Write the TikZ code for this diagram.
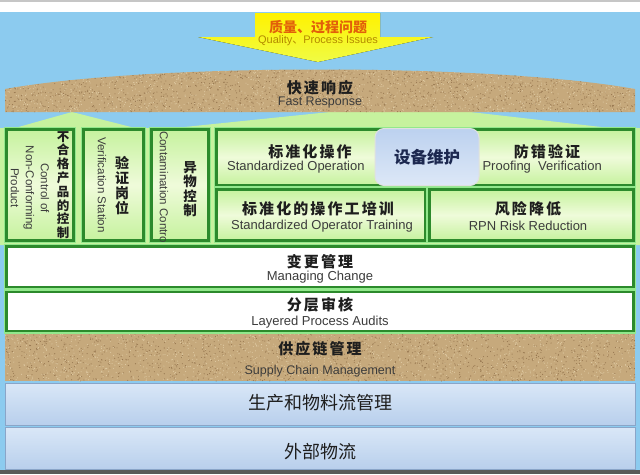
\documentclass[tikz,border=0pt]{standalone}
\usepackage{fontspec}
\setmainfont{Liberation Sans}
\newfontfamily\cjk{Noto Sans CJK SC}
\newfontfamily\cjkw{Noto Sans CJK SC}[LetterSpace=14]
\definecolor{sky}{HTML}{8CCBEF}
\definecolor{leaf}{HTML}{2C8A2C}
\definecolor{glow}{HTML}{92E88C}
\definecolor{lime}{HTML}{C6F29E}
\definecolor{paleleaf}{HTML}{EFFBDA}
\definecolor{sand}{HTML}{C6A97C}
\definecolor{sanddark}{HTML}{977750}
\definecolor{sandlight}{HTML}{DFCBA4}
\definecolor{bandtop}{HTML}{D9E7F7}
\definecolor{bandbot}{HTML}{B8CFEC}
\definecolor{bandline}{HTML}{8AA5C8}
\definecolor{ink}{HTML}{1E1E1E}
\definecolor{grayink}{HTML}{3C3C3C}
\definecolor{flame}{HTML}{E2600A}
\definecolor{olive}{HTML}{B38A00}
\definecolor{navy}{HTML}{1C2850}
\definecolor{eqtop}{HTML}{BCD1EF}
\definecolor{eqbot}{HTML}{DDE8F7}
\tikzset{
  pillar/.style={draw=leaf, line width=2.6pt, top color=lime, bottom color=lime,
    middle color=paleleaf, preaction={draw=glow, line width=5.5pt},
    inner sep=0pt, outer sep=0pt},
  whitebar/.style={pillar, top color=white, bottom color=white, middle color=white},
  band/.style={draw=bandline, line width=0.8pt, top color=bandtop, bottom color=bandbot,
    inner sep=0pt, outer sep=0pt},
  cn/.style={font=\cjkw\bfseries\fontsize{15}{15}\selectfont, text=ink, inner sep=0pt},
  en/.style={font=\fontsize{13}{13}\selectfont, text=grayink, inner sep=0pt},
  vcn/.style={font=\cjk\bfseries\fontsize{12.5}{13.8}\selectfont, text=ink,
    align=center, inner sep=0pt},
  ven/.style={rotate=-90, font=\fontsize{11.5}{15}\selectfont, text=grayink,
    align=center, inner sep=0pt},
}
\begin{document}
\begin{tikzpicture}[x=1pt, y=-1pt]
\useasboundingbox (0,0) rectangle (640,474);
% background
\fill[white] (0,0) rectangle (640,474);
\fill[gray!45] (0,0) rectangle (640,2);
\fill[sky] (0,12) rectangle (640,470);
\fill[black!65] (0,470) rectangle (640,474);
\fill[lime] (0,245) -- (0,128) -- (15,128) -- (72,112) -- (135,128) -- (175,128)
  -- (330,112) -- (470,112) -- (610,128) -- (640,128) -- (640,245) -- cycle;

% quality arrow
\fill[top color=yellow!90!orange, bottom color=yellow!70!lime!90!white]
  (255,13) -- (380,13) -- (380,37) -- (433,37) -- (318,62) -- (198,37) -- (255,37) -- cycle;
\node[font=\cjk\bfseries\fontsize{14}{14}\selectfont, text=flame, inner sep=0pt] (qcn) at (318,27) {质量、过程问题};
\node[font=\fontsize{11}{11}\selectfont, text=olive, inner sep=0pt] (qen) at (318,41) {Quality{\cjk 、}Process Issues};

% fast response
\begin{scope}
\clip (5,112) -- (5,89) .. controls (150,63) and (490,63) .. (635,89) -- (635,112) -- cycle;
\fill[sand] (0,60) rectangle (640,115);
\pgfmathsetseed{5}
\foreach \k in {1,...,1800} \fill[sanddark] ({5+630*rnd},{62+50*rnd}) circle (0.55);
\foreach \k in {1,...,1800} \fill[sandlight] ({5+630*rnd},{62+50*rnd}) circle (0.55);
\end{scope}
\node[cn] (frcn) at (320,88) {快速响应};
\node[en, font=\fontsize{12.5}{12.5}\selectfont] (fren) at (320,102) {Fast Response};

% pillars
\node[pillar, minimum width=67, minimum height=111] (ncp) at (40,185) {};
\node[pillar, minimum width=60, minimum height=111] (vs) at (113.5,185) {};
\node[pillar, minimum width=57, minimum height=111] (cc) at (180,185) {};
\node[pillar, minimum width=208.5, minimum height=55.5] (std) at (320.75,157.25) {};
\node[pillar, minimum width=208.5, minimum height=55.5] (ep) at (529.25,157.25) {};
\node[pillar, minimum width=208.5, minimum height=51] (sot) at (320.75,215) {};
\node[pillar, minimum width=204, minimum height=51] (rpn) at (531.5,215) {};

\node[vcn] (ncpcn) at (63,185) {不\\合\\格\\产\\品\\的\\控\\制};
\node[ven] (ncpen) at (30,188) {Control of\\Non-Conforming\\Product};
\node[vcn, font=\cjk\bfseries\fontsize{14}{15}\selectfont] (vscn) at (122,186) {验\\证\\岗\\位};
\node[ven] (vsen) at (102,185) {Verification Station};
\node[vcn, font=\cjk\bfseries\fontsize{13.5}{14.5}\selectfont] (cccn) at (190,189) {异\\物\\控\\制};
\begin{scope}
\clip (150,128) rectangle (212,242);
\node[ven, anchor=west] (ccen) at (164,131) {Contamination Control};
\end{scope}

\node[cn] (stdcn) at (310,152) {标准化操作};
\node[en, anchor=west] (stden) at (227,167) {Standardized Operation};
\node[cn] (epcn) at (547,152) {防错验证};
\node[en, anchor=east] (epen) at (602,167) {Error Proofing\ \ Verification};
\node[cn] (sotcn) at (318,209) {标准化的操作工培训};
\node[en] (soten) at (322,226) {Standardized Operator Training};
\node[cn] (rpncn) at (528,209) {风险降低};
\node[en] (rpnen) at (528,226) {RPN Risk Reduction};

% equipment maintenance
\node[draw=black!12, line width=1pt, rounded corners=9pt, top color=eqtop,
  bottom color=eqbot, minimum width=104, minimum height=57, inner sep=0pt,
  font=\cjk\bfseries\fontsize{16.5}{16.5}\selectfont, text=navy] (eqm) at (427,157) {设备维护};

% managing change, audits
\node[whitebar, minimum width=627, minimum height=40.5] (mc) at (320,266.75) {};
\node[whitebar, minimum width=627, minimum height=39] (lpa) at (320,311.5) {};
\node[cn] (mccn) at (320,262) {变更管理};
\node[en] (mcen) at (320,277) {Managing Change};
\node[cn] (lpacn) at (320,305) {分层审核};
\node[en] (lpaen) at (320,322) {Layered Process Audits};

% supply chain
\begin{scope}
\clip (5,334) rectangle (635,381);
\fill[sand] (5,334) rectangle (635,381);
\foreach \k in {1,...,1400} \fill[sanddark] ({5+630*rnd},{334+47*rnd}) circle (0.55);
\foreach \k in {1,...,1400} \fill[sandlight] ({5+630*rnd},{334+47*rnd}) circle (0.55);
\end{scope}
\node[cn] (sccn) at (320,349) {供应链管理};
\node[en, font=\fontsize{12.5}{12.5}\selectfont] (scen) at (320,371) {Supply Chain Management};

% logistics
\node[band, minimum width=630, minimum height=42] (pmf) at (320,404) {};
\node[band, minimum width=630, minimum height=42] (ext) at (320,448.5) {};
\node[font=\cjk\fontsize{18}{18}\selectfont, text=ink, inner sep=0pt] (pmfcn) at (320,403) {生产和物料流管理};
\node[font=\cjk\fontsize{18}{18}\selectfont, text=ink, inner sep=0pt] (extcn) at (320,452) {外部物流};
\end{tikzpicture}
\end{document}
